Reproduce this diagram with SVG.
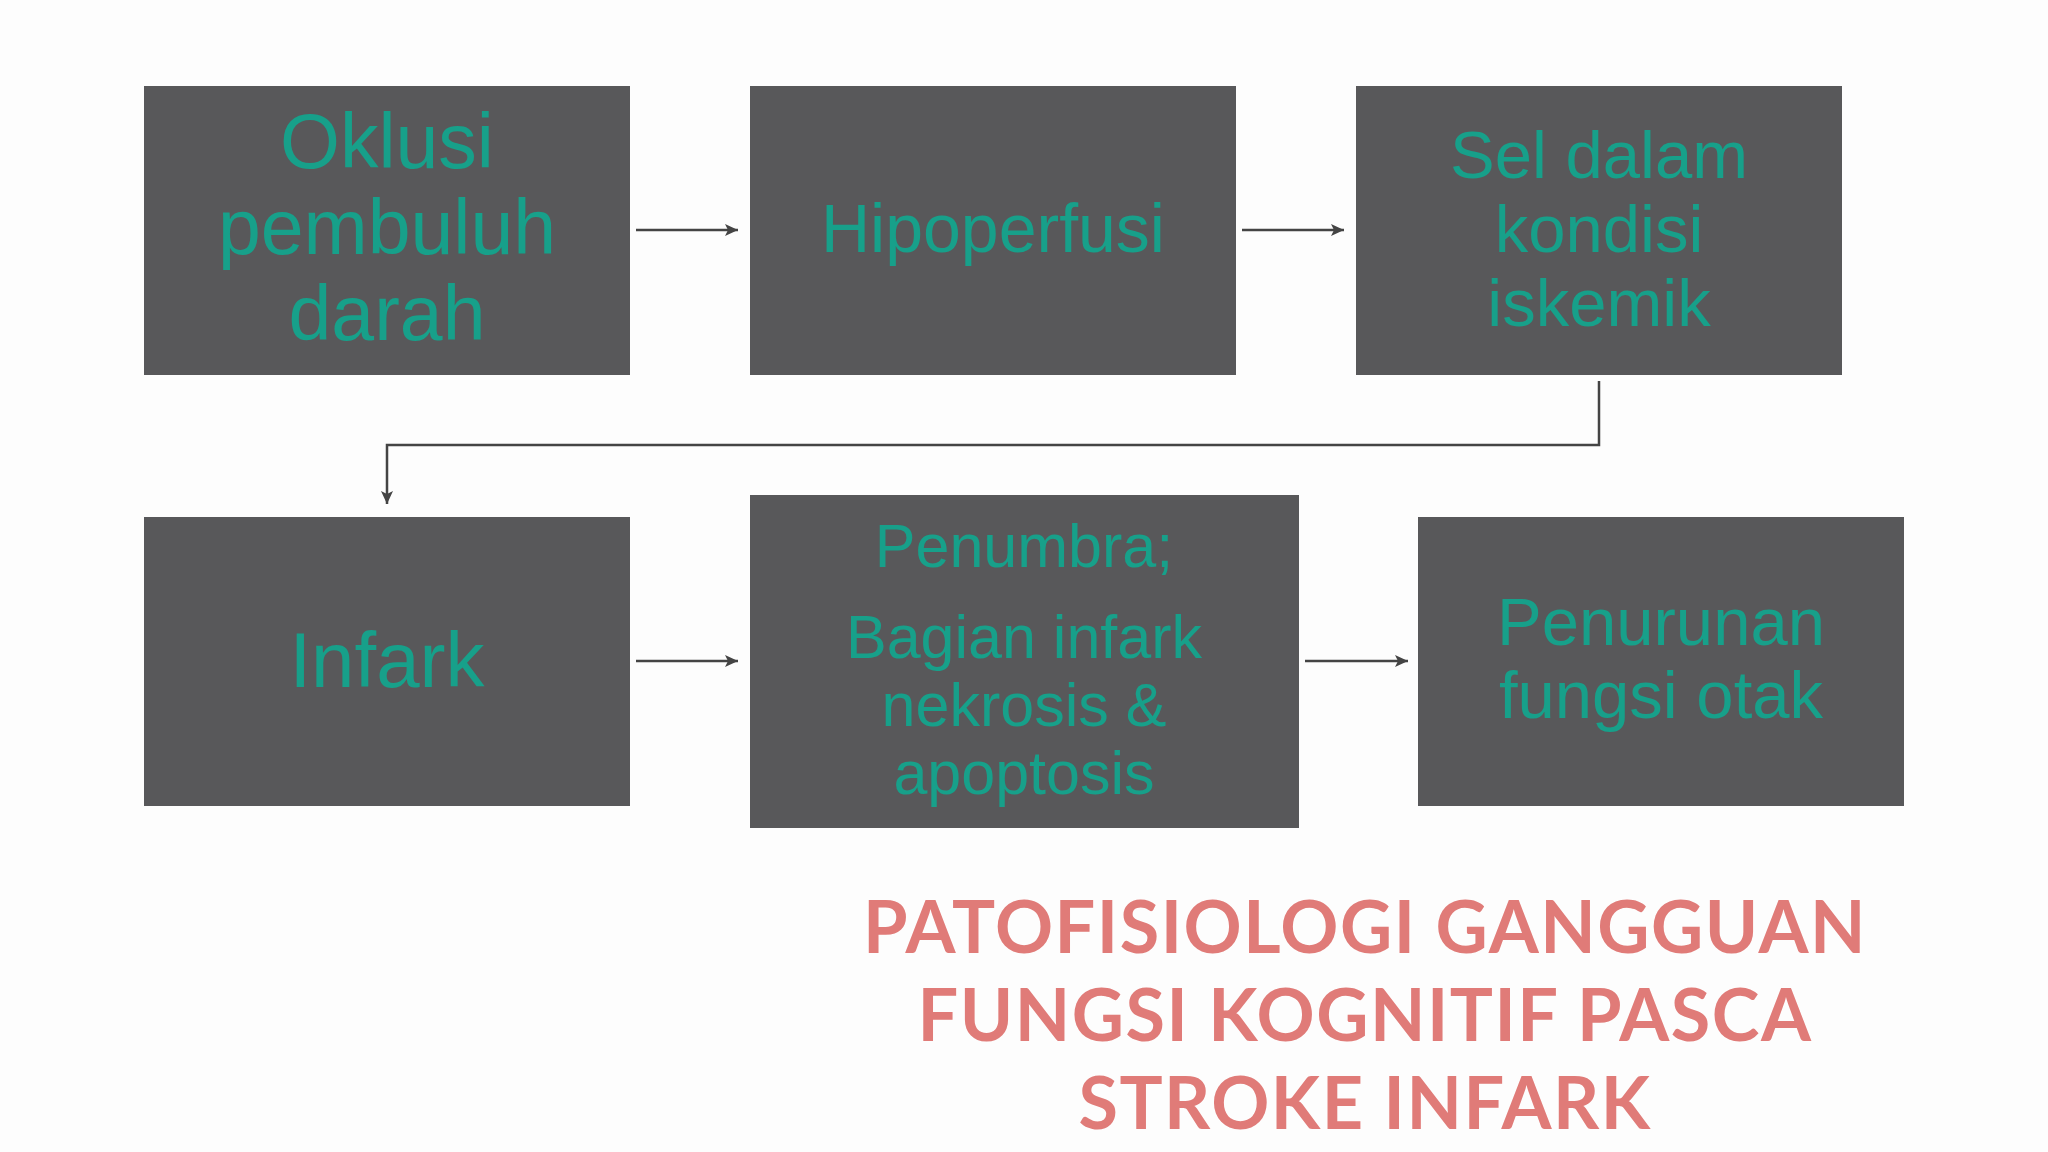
<svg xmlns="http://www.w3.org/2000/svg" width="2048" height="1152" viewBox="0 0 2048 1152">
<style>
.b{fill:#58585a}
.t{fill:#17a08a;font-family:"Liberation Sans",Arial,sans-serif;text-anchor:middle}
.c{stroke:#444;stroke-width:2.5;fill:none}
.h{fill:#e07b78;font-family:Lato,"Liberation Sans",sans-serif;font-weight:bold;font-size:72px;letter-spacing:1.5px;text-anchor:middle}
</style>
<defs><marker id="a" markerWidth="14" markerHeight="14" refX="13" refY="7" orient="auto" markerUnits="userSpaceOnUse"><path d="M0,1 L13,7 L0,13 L3,7 Z" fill="#444"/></marker></defs>
<rect width="2048" height="1152" fill="#fdfdfd"/>
<g id="n1"><rect class="b" x="144" y="86" width="486" height="289"/><text class="t" font-size="77"><tspan x="387" y="168">Oklusi</tspan><tspan x="387" y="254">pembuluh</tspan><tspan x="387" y="340">darah</tspan></text></g>
<g id="n2"><rect class="b" x="750" y="86" width="486" height="289"/><text class="t" font-size="68" x="993" y="252">Hipoperfusi</text></g>
<g id="n3"><rect class="b" x="1356" y="86" width="486" height="289"/><text class="t" font-size="67"><tspan x="1599" y="178">Sel dalam</tspan><tspan x="1599" y="252">kondisi</tspan><tspan x="1599" y="326">iskemik</tspan></text></g>
<g id="n4"><rect class="b" x="144" y="517" width="486" height="289"/><text class="t" font-size="78" x="387" y="687">Infark</text></g>
<g id="n5"><rect class="b" x="750" y="495" width="549" height="333"/><text class="t" font-size="61"><tspan x="1024" y="567">Penumbra;</tspan><tspan x="1024" y="658">Bagian infark</tspan><tspan x="1024" y="726">nekrosis &amp;</tspan><tspan x="1024" y="794">apoptosis</tspan></text></g>
<g id="n6"><rect class="b" x="1418" y="517" width="486" height="289"/><text class="t" font-size="67"><tspan x="1661" y="645">Penurunan</tspan><tspan x="1661" y="718">fungsi otak</tspan></text></g>
<g id="connectors">
<path class="c" d="M636,230 H738" marker-end="url(#a)"/>
<path class="c" d="M1242,230 H1344" marker-end="url(#a)"/>
<path class="c" d="M1599,381 V445 H387 V504" marker-end="url(#a)"/>
<path class="c" d="M636,661 H738" marker-end="url(#a)"/>
<path class="c" d="M1305,661 H1408" marker-end="url(#a)"/>
</g>
<text class="h"><tspan x="1365" y="953">PATOFISIOLOGI GANGGUAN</tspan><tspan x="1365" y="1041">FUNGSI KOGNITIF PASCA</tspan><tspan x="1365" y="1129">STROKE INFARK</tspan></text>
</svg>
